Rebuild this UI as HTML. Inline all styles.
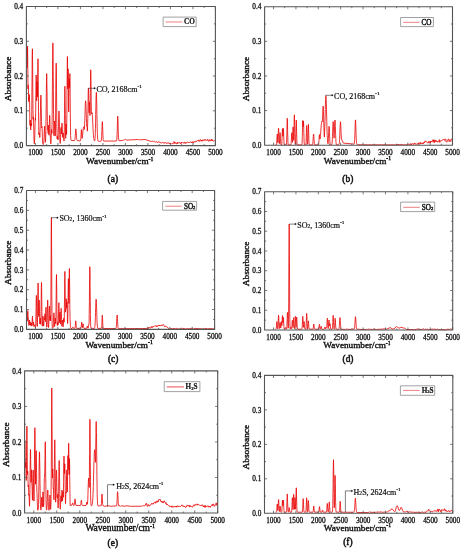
<!DOCTYPE html>
<html><head><meta charset="utf-8"><title>FTIR spectra</title>
<style>html,body{margin:0;padding:0;background:#fff;width:463px;height:550px;overflow:hidden}svg{display:block}</style>
</head><body>
<svg width="463" height="550" viewBox="0 0 463 550" font-family="'Liberation Serif','Times New Roman',serif" fill="#111" stroke-linejoin="round">
<rect width="463" height="550" fill="#fff"/>
<path d="M26.7,52.7 26.8,47.3 26.8,47.1 27.0,54.6 27.1,67.8 27.3,63.5 27.4,49.9 27.5,47.3 27.6,46.2 27.7,56.7 27.9,76.2 28.0,88.9 28.2,85.1 28.3,84.8 28.3,85.7 28.5,92.0 28.6,101.5 28.8,99.7 28.9,97.9 29.1,99.2 29.2,94.7 29.4,94.5 29.5,99.3 29.7,107.9 29.8,117.5 30.0,125.3 30.1,122.0 30.3,120.1 30.4,122.8 30.6,128.4 30.7,130.0 30.9,127.3 31.0,124.8 31.2,123.6 31.3,124.3 31.5,126.0 31.6,125.0 31.8,111.8 31.9,93.0 32.1,72.1 32.2,55.3 32.4,48.8 32.5,55.3 32.7,71.9 32.8,92.3 33.0,110.2 33.1,119.3 33.3,116.9 33.4,116.8 33.4,117.4 33.6,121.8 33.9,135.2 34.0,140.0 34.2,142.7 34.3,143.8 34.5,142.8 34.6,140.3 34.8,135.9 34.9,129.7 35.1,123.3 35.2,119.1 35.3,118.4 35.4,118.3 35.5,120.3 35.7,109.8 35.8,96.0 36.0,83.1 36.1,75.7 36.2,75.0 36.3,76.7 36.4,85.2 36.6,97.0 36.7,100.8 36.9,89.3 37.0,82.1 37.1,81.5 37.2,83.3 37.3,91.7 37.5,96.9 37.6,81.8 37.8,67.2 37.9,59.1 38.0,58.7 38.1,61.7 38.2,74.5 38.4,93.1 38.5,111.5 38.7,125.6 38.8,134.3 39.0,134.8 39.1,133.4 39.3,132.8 39.4,133.6 39.6,135.4 39.7,137.5 39.9,137.1 40.0,132.7 40.2,126.1 40.3,117.8 40.5,108.9 40.6,101.0 40.8,96.1 40.9,95.1 40.9,95.3 41.1,98.8 41.2,105.6 41.4,113.8 41.5,121.6 41.7,127.8 41.8,127.1 42.0,126.7 42.1,128.9 42.3,132.9 42.4,137.3 42.6,140.9 42.7,143.0 42.9,144.0 43.0,144.4 43.2,144.5 43.3,144.5 43.5,144.2 43.6,143.6 43.8,142.2 43.9,139.8 44.1,136.2 44.2,132.0 44.4,128.2 44.5,126.1 44.6,126.0 44.7,126.6 44.8,129.4 45.1,137.5 45.3,140.5 45.4,142.3 45.6,141.0 45.7,137.2 45.9,130.4 46.0,120.1 46.2,106.8 46.3,92.5 46.5,80.5 46.6,74.1 46.7,73.6 46.8,75.3 46.9,83.6 47.1,96.4 47.2,110.0 47.4,121.5 47.5,129.8 47.7,129.7 47.8,129.8 47.8,130.1 48.0,131.6 48.1,133.5 48.3,131.5 48.4,127.1 48.6,125.3 48.7,127.5 48.9,132.2 49.0,135.2 49.2,130.7 49.3,124.5 49.5,118.8 49.6,115.5 49.7,115.3 49.8,116.2 49.9,120.6 50.2,133.4 50.4,138.5 50.5,141.7 50.7,143.3 50.8,143.9 51.0,142.7 51.1,139.9 51.4,131.6 51.6,129.6 51.7,130.7 51.9,133.4 52.0,126.7 52.2,114.4 52.3,97.0 52.5,76.6 52.6,57.7 52.8,45.4 52.9,42.9 52.9,43.5 53.1,52.6 53.2,69.9 53.4,90.4 53.5,109.3 53.7,123.8 53.8,133.0 54.0,135.7 54.1,131.6 54.3,126.7 54.4,122.6 54.6,121.0 54.7,122.6 54.9,126.8 55.0,131.9 55.2,136.1 55.3,135.3 55.5,127.0 55.6,113.3 55.9,77.8 56.1,65.7 56.2,63.1 56.2,63.7 56.4,72.9 56.5,89.4 56.7,107.8 56.8,123.2 57.0,133.4 57.1,138.9 57.3,138.2 57.4,136.6 57.6,135.9 57.7,136.6 58.0,139.9 58.2,137.3 58.3,132.7 58.5,126.6 58.6,119.8 58.8,114.1 58.9,111.1 59.0,110.9 59.1,111.7 59.2,115.8 59.4,122.1 59.5,128.9 59.7,134.8 59.8,139.1 60.0,141.9 60.1,143.3 60.3,143.4 60.4,141.5 60.6,137.8 60.7,132.8 60.9,128.6 61.0,127.5 61.0,127.6 61.2,130.1 61.3,134.1 61.5,131.9 61.6,128.3 61.8,124.9 61.9,123.1 62.0,123.0 62.1,123.5 62.2,126.0 62.4,129.9 62.5,133.9 62.7,137.2 62.8,137.5 63.0,135.4 63.1,133.6 63.3,132.9 63.4,133.8 63.6,135.9 63.7,138.4 63.9,140.6 64.0,141.1 64.2,136.7 64.3,127.9 64.5,114.6 64.6,99.6 64.8,88.6 64.9,86.2 64.9,86.8 65.1,95.2 65.4,123.8 65.5,134.0 65.7,138.4 65.8,133.9 66.0,128.1 66.1,124.2 66.2,123.9 66.3,125.0 66.4,129.5 66.6,134.5 66.7,128.6 66.9,113.6 67.0,92.4 67.2,70.9 67.3,57.8 67.4,56.5 67.5,58.7 67.6,71.6 67.8,88.8 67.9,80.5 68.1,70.5 68.2,68.9 68.2,70.0 68.4,80.6 68.5,97.1 68.7,111.9 68.8,103.0 69.0,89.4 69.1,80.2 69.2,79.0 69.3,79.8 69.4,87.5 69.6,87.8 69.7,76.8 69.9,73.6 70.0,77.5 70.0,81.0 70.2,96.3 70.3,113.6 70.5,127.2 70.6,135.3 70.8,138.9 70.9,139.9 71.2,140.4 74.4,140.6 74.6,140.5 74.7,140.2 74.9,139.6 75.0,138.4 75.2,136.7 75.5,132.1 75.6,130.1 75.8,129.0 75.8,128.9 75.9,129.2 76.1,130.7 76.4,135.3 76.5,137.4 76.7,138.9 76.8,139.8 77.0,140.3 77.3,140.6 80.3,140.9 80.4,140.8 80.6,140.4 80.7,139.5 80.9,137.7 81.0,135.0 81.2,132.0 81.3,129.9 81.4,129.5 81.5,129.6 81.6,131.2 81.9,136.6 82.1,138.4 82.2,137.9 82.4,137.0 82.6,135.1 83.1,129.6 83.3,128.3 83.4,127.4 83.6,126.8 83.7,126.9 83.9,127.2 84.3,129.5 84.5,128.5 84.6,124.9 84.8,120.6 85.1,111.0 85.2,106.6 85.4,103.1 85.5,101.2 85.6,100.8 85.7,100.9 85.8,102.5 86.0,105.5 86.1,109.6 86.4,118.7 86.6,122.7 86.7,126.1 86.9,125.6 86.9,125.8 87.0,126.6 87.1,127.4 87.3,131.2 87.5,130.8 87.6,125.7 87.8,118.2 88.1,99.9 88.2,92.5 88.4,88.6 88.4,88.2 88.5,89.1 88.7,93.7 88.8,100.7 89.0,108.4 89.1,112.8 89.3,106.8 89.3,105.7 89.4,102.6 89.5,101.9 89.6,102.3 89.7,106.1 89.9,112.2 90.0,115.5 90.2,105.4 90.3,92.7 90.5,80.3 90.6,71.8 90.7,69.8 90.8,70.0 90.9,75.5 91.1,86.3 91.2,102.1 91.4,111.3 91.5,113.9 91.9,112.6 92.0,112.6 92.1,112.9 92.3,114.2 92.4,116.2 92.6,118.9 93.0,128.3 93.2,131.1 93.3,133.6 93.5,135.7 93.6,137.3 93.8,138.5 93.9,139.4 94.1,140.0 94.4,140.8 94.5,140.9 94.7,140.7 94.8,140.2 95.0,139.1 95.0,138.6 95.1,137.0 95.3,133.7 95.4,128.8 95.6,122.2 95.7,114.5 95.9,106.4 96.0,99.1 96.2,94.1 96.3,92.3 96.5,94.1 96.6,99.1 96.8,106.4 96.9,114.5 97.1,122.3 97.2,128.8 97.4,133.7 97.5,137.1 97.7,139.2 97.8,140.3 98.0,140.8 98.1,141.1 99.6,141.5 100.5,141.1 101.0,141.2 101.1,141.1 101.3,140.8 101.4,139.9 101.6,138.1 101.6,136.3 101.7,135.2 101.9,131.1 102.0,126.6 102.2,123.0 102.3,121.6 102.5,123.0 102.6,126.5 102.8,130.9 102.9,135.0 103.1,137.9 103.1,138.5 103.2,139.7 103.4,140.6 103.5,141.1 116.4,141.0 116.6,140.8 116.7,140.1 116.9,138.7 117.0,136.0 117.2,131.7 117.5,120.7 117.6,117.0 117.7,116.2 117.8,116.4 117.9,119.1 118.1,124.2 118.2,130.2 118.4,134.5 118.5,137.7 118.7,139.5 118.8,140.4 119.0,140.7 122.6,140.5 123.3,140.1 124.4,140.1 125.3,139.1 126.6,140.1 138.5,139.5 139.2,139.9 145.1,139.5 151.4,141.5 152.0,141.0 153.5,141.4 154.1,141.9 154.7,141.5 155.4,142.1 156.2,141.7 157.2,142.1 157.8,142.7 158.4,141.7 161.6,143.1 162.6,142.3 164.0,143.0 164.9,143.2 165.2,142.3 165.9,143.0 167.2,143.6 167.7,142.7 168.5,142.7 169.4,144.0 170.0,143.0 171.5,143.8 171.8,143.5 172.3,143.9 172.8,143.2 173.3,143.6 174.0,141.6 174.0,141.5 174.3,142.6 174.5,143.0 174.6,143.5 174.8,142.9 174.9,142.1 175.3,142.5 175.8,143.6 176.5,143.9 177.0,142.7 177.3,142.3 177.7,143.8 178.1,142.7 178.4,142.4 178.8,142.7 180.0,142.9 180.8,143.8 181.3,142.0 181.7,143.0 182.3,142.6 183.5,143.2 184.1,142.2 184.5,142.2 185.1,143.6 185.6,142.5 186.4,143.2 186.9,142.1 187.7,142.0 188.2,142.6 189.5,142.5 189.8,142.2 189.9,142.5 190.2,142.4 190.7,141.7 192.1,142.8 192.8,141.5 193.3,143.1 193.8,142.0 194.5,142.0 194.9,141.2 195.2,141.1 195.6,141.9 196.3,141.7 196.7,140.9 197.1,140.9 198.5,140.0 198.9,141.4 199.4,141.4 200.1,139.7 200.6,139.6 201.2,141.3 201.7,140.0 202.4,141.2 203.1,139.5 203.7,140.6 204.7,140.4 205.0,139.2 205.4,139.5 205.6,140.3 205.8,140.5 206.8,140.0 207.2,140.4 207.7,139.3 208.4,141.1 209.0,141.4 209.5,139.6 210.7,141.1 211.3,139.1 211.7,139.5 212.0,141.0 212.4,139.7 213.5,141.2 214.7,140.7 215.0,140.3" fill="none" stroke="#e80000" stroke-width="0.8" stroke-linejoin="round"/>
<path d="M35.4 145.6v-2.6M35.4 6.5v2.6M46.65 145.6v-1.5M46.65 6.5v1.5M57.9 145.6v-2.6M57.9 6.5v2.6M69.15 145.6v-1.5M69.15 6.5v1.5M80.4 145.6v-2.6M80.4 6.5v2.6M91.65 145.6v-1.5M91.65 6.5v1.5M102.9 145.6v-2.6M102.9 6.5v2.6M114.15 145.6v-1.5M114.15 6.5v1.5M125.4 145.6v-2.6M125.4 6.5v2.6M136.65 145.6v-1.5M136.65 6.5v1.5M147.9 145.6v-2.6M147.9 6.5v2.6M159.15 145.6v-1.5M159.15 6.5v1.5M170.4 145.6v-2.6M170.4 6.5v2.6M181.65 145.6v-1.5M181.65 6.5v1.5M192.9 145.6v-2.6M192.9 6.5v2.6M204.15 145.6v-1.5M204.15 6.5v1.5M215.4 145.6v-2.6M215.4 6.5v2.6M26.4 128.21h1.5M215.4 128.21h-1.5M26.4 110.82h2.6M215.4 110.82h-2.6M26.4 93.44h1.5M215.4 93.44h-1.5M26.4 76.05h2.6M215.4 76.05h-2.6M26.4 58.66h1.5M215.4 58.66h-1.5M26.4 41.27h2.6M215.4 41.27h-2.6M26.4 23.89h1.5M215.4 23.89h-1.5" stroke="#555" stroke-width="0.8" fill="none"/>
<rect x="26.4" y="6.5" width="189" height="139.1" fill="none" stroke="#555" stroke-width="1.1"/>
<g font-size="7.25" fill="#111" stroke="#111" stroke-width="0.28"><text x="35.4" y="155.1" text-anchor="middle">1000</text><text x="57.9" y="155.1" text-anchor="middle">1500</text><text x="80.4" y="155.1" text-anchor="middle">2000</text><text x="102.9" y="155.1" text-anchor="middle">2500</text><text x="125.4" y="155.1" text-anchor="middle">3000</text><text x="147.9" y="155.1" text-anchor="middle">3500</text><text x="170.4" y="155.1" text-anchor="middle">4000</text><text x="192.9" y="155.1" text-anchor="middle">4500</text><text x="215.4" y="155.1" text-anchor="middle">5000</text><text x="23.2" y="148.25" text-anchor="end">0.0</text><text x="23.2" y="113.47" text-anchor="end">0.1</text><text x="23.2" y="78.7" text-anchor="end">0.2</text><text x="23.2" y="43.92" text-anchor="end">0.3</text><text x="23.2" y="9.15" text-anchor="end">0.4</text></g>
<path d="M275.5,144.9 276.4,144.8 276.5,144.3 276.7,143.2 276.8,141.0 277.0,138.0 277.1,135.2 277.3,134.0 277.4,135.2 277.7,140.9 277.9,142.7 278.0,141.1 278.2,137.4 278.3,132.7 278.5,129.0 278.6,128.2 278.6,128.4 278.8,131.2 278.9,135.9 279.1,140.1 279.2,142.9 279.4,143.7 279.5,142.2 279.7,139.4 279.8,136.0 280.0,133.3 280.1,132.7 280.1,132.9 280.3,134.9 280.4,138.3 280.6,141.5 280.7,143.5 280.9,144.5 281.0,144.9 281.5,144.9 281.6,144.6 281.8,143.6 281.9,141.4 282.1,137.6 282.2,133.0 282.4,129.4 282.5,128.5 282.5,128.7 282.7,131.1 282.8,135.0 283.0,136.2 283.1,132.4 283.3,129.2 283.4,128.5 283.4,128.7 283.6,131.6 283.7,136.1 283.9,140.3 284.0,143.0 284.2,144.3 284.3,144.8 286.1,144.9 286.3,144.8 286.4,144.3 286.6,142.7 286.7,139.1 286.9,132.9 287.0,125.4 287.2,119.5 287.3,118.2 287.3,118.5 287.5,123.0 287.6,130.4 287.8,137.3 287.9,141.7 288.1,143.9 288.2,144.7 288.4,144.9 290.8,144.9 290.9,144.7 291.1,143.9 291.2,142.3 291.4,139.5 291.5,136.0 291.7,133.3 291.8,132.7 291.8,132.9 292.0,134.9 292.1,138.3 292.3,141.2 292.4,142.3 292.6,139.6 292.7,135.1 292.9,130.2 293.0,127.1 293.1,126.9 293.2,127.8 293.3,131.7 293.5,136.7 293.6,140.4 293.8,139.5 293.9,133.9 294.1,125.7 294.2,118.1 294.4,114.9 294.5,118.1 294.7,125.8 294.8,134.0 295.0,140.0 295.1,143.2 295.3,144.4 295.4,144.3 295.6,142.8 295.7,139.5 295.9,133.8 296.0,126.8 296.2,121.3 296.3,120.1 296.3,120.4 296.5,124.6 296.6,131.5 296.8,137.8 296.9,142.0 297.1,144.0 297.2,144.7 297.4,144.9 301.7,144.9 301.9,144.6 302.0,143.6 302.2,141.0 302.3,136.3 302.5,129.7 302.6,123.4 302.8,120.5 302.9,122.1 303.1,126.6 303.2,125.3 303.4,121.6 303.5,121.1 303.5,121.6 303.7,125.8 303.8,132.3 304.0,138.3 304.1,142.2 304.3,144.0 304.4,144.7 305.6,144.9 305.8,144.7 305.9,143.8 306.1,141.8 306.2,137.9 306.4,132.6 306.5,127.7 306.7,125.6 306.8,127.7 307.0,132.6 307.1,137.9 307.3,141.8 307.4,143.8 307.6,144.0 307.7,142.5 307.9,139.0 308.0,133.8 308.2,128.0 308.3,124.6 308.4,124.3 308.5,125.3 308.6,129.8 308.8,135.7 308.9,140.4 309.1,143.2 309.2,144.4 309.4,144.9 312.4,144.9 312.5,144.7 312.7,144.2 312.8,143.2 313.0,141.5 313.1,139.2 313.3,136.7 313.4,134.8 313.6,134.0 313.7,134.8 313.9,136.7 314.0,139.2 314.2,141.5 314.3,143.2 314.5,144.2 314.6,144.7 314.8,144.9 318.2,144.9 318.4,144.8 318.5,144.4 318.7,143.6 318.8,142.3 319.0,140.4 319.1,138.0 319.3,135.9 319.4,134.7 319.5,134.5 319.6,134.7 319.7,136.0 319.9,137.9 320.0,139.0 320.2,138.1 320.3,136.8 320.5,135.2 321.1,127.1 321.2,125.2 321.4,123.7 321.5,122.5 321.7,121.7 321.8,121.2 322.0,121.0 322.3,121.3 322.4,121.6 322.6,118.2 322.7,113.4 322.9,109.3 323.0,106.7 323.2,106.1 323.3,107.8 323.5,111.4 323.6,116.4 323.9,127.5 324.1,132.2 324.2,135.8 324.4,137.0 324.5,134.6 324.7,131.1 324.8,126.6 325.0,121.2 325.3,109.4 325.4,104.0 325.6,99.6 325.7,96.7 325.9,95.7 326.0,96.7 326.2,99.6 326.3,104.0 326.5,109.4 326.8,121.4 326.9,126.9 327.1,131.6 327.2,135.6 327.4,138.6 327.5,140.8 327.7,142.4 327.8,143.3 328.0,143.8 328.1,142.9 328.3,141.2 328.4,138.5 328.6,135.0 328.7,131.3 328.9,128.1 329.0,126.4 329.1,126.3 329.2,126.8 329.3,129.0 329.5,132.5 329.6,136.3 329.8,139.6 329.9,142.0 330.1,143.5 330.2,144.3 330.4,144.7 330.5,144.9 331.6,144.9 331.7,144.7 331.9,144.3 332.0,143.4 332.2,142.0 332.3,139.6 332.5,136.4 332.6,132.4 332.8,128.1 332.9,124.4 333.1,122.1 333.2,121.6 333.2,121.7 333.4,123.4 333.5,126.7 333.8,134.6 334.0,137.7 334.1,138.2 334.3,135.2 334.4,131.2 334.6,126.8 334.7,122.9 334.9,120.5 335.0,120.0 335.0,120.1 335.2,122.0 335.3,125.5 335.6,134.4 335.8,138.2 335.9,141.0 336.1,142.9 336.2,144.0 336.4,144.5 336.5,144.8 338.3,144.8 338.9,144.3 339.1,144.0 339.2,143.6 339.4,142.5 339.5,140.8 339.7,138.3 339.8,134.9 340.1,126.8 340.3,123.6 340.4,121.9 340.5,121.7 340.6,122.1 340.7,124.1 340.9,127.4 341.0,131.3 341.2,135.0 341.3,138.0 341.5,139.2 343.4,143.1 353.9,144.1 354.1,144.0 354.2,143.7 354.4,143.0 354.5,141.7 354.7,139.4 354.8,135.8 355.0,131.3 355.1,126.4 355.3,122.2 355.4,120.1 355.5,119.9 355.6,120.5 355.7,123.4 355.9,128.0 356.0,132.9 356.2,137.2 356.3,140.3 356.5,142.3 356.6,143.4 356.8,144.0 357.5,144.8 395.6,144.9 396.0,144.6 402.2,144.7 404.9,144.9 405.0,144.8 405.5,144.9 405.7,144.7 405.8,144.9 407.8,144.7 408.3,144.1 409.3,144.5 409.9,144.1 410.4,144.7 410.8,143.5 410.9,143.7 411.3,144.9 411.8,143.7 412.4,143.8 413.6,144.4 413.8,144.4 414.2,142.9 414.4,143.2 414.7,143.9 415.2,144.4 415.7,143.4 416.1,144.2 416.5,144.0 417.0,144.5 417.8,143.3 418.3,142.8 418.8,144.4 419.3,143.3 419.5,142.8 419.8,143.1 419.9,143.5 420.3,142.4 420.6,143.8 421.0,144.0 421.4,143.7 422.0,142.7 422.5,143.8 422.9,143.0 423.5,143.7 423.9,142.2 424.3,142.8 424.5,143.0 425.0,140.9 425.2,140.9 425.4,141.2 425.9,141.1 426.1,141.5 426.8,141.8 427.2,142.6 427.9,143.2 428.3,143.0 428.6,141.6 429.0,141.2 429.5,142.6 430.1,141.2 430.5,143.1 431.0,141.2 432.2,142.0 432.6,141.5 433.0,139.6 433.4,141.6 433.7,140.1 434.2,142.8 434.8,139.8 435.0,140.1 435.3,141.5 435.7,141.9 435.9,142.0 436.2,140.3 436.6,141.3 436.8,141.4 437.0,141.1 437.2,141.2 437.7,142.2 438.2,142.1 438.6,141.5 438.9,141.5 439.1,140.3 439.3,139.6 439.8,142.4 440.3,141.1 440.7,141.1 441.2,140.2 441.7,140.7 442.5,140.2 442.8,139.6 443.0,139.3 443.4,139.3 443.8,139.8 444.3,139.4 444.7,140.4 444.9,140.6 445.1,139.4 445.3,139.1 445.4,139.1 445.8,139.3 445.9,140.2 446.1,142.0 447.1,141.8 447.7,140.2 448.2,139.1 448.8,139.1 449.0,141.7 449.6,140.7 450.0,139.7 450.4,140.5 450.8,141.6 451.1,140.2 451.7,138.7 452.2,138.9" fill="none" stroke="#e80000" stroke-width="0.8" stroke-linejoin="round"/>
<path d="M273.55 145.2v-2.6M273.55 6.7v2.6M284.73 145.2v-1.5M284.73 6.7v1.5M295.92 145.2v-2.6M295.92 6.7v2.6M307.1 145.2v-1.5M307.1 6.7v1.5M318.29 145.2v-2.6M318.29 6.7v2.6M329.47 145.2v-1.5M329.47 6.7v1.5M340.65 145.2v-2.6M340.65 6.7v2.6M351.84 145.2v-1.5M351.84 6.7v1.5M363.02 145.2v-2.6M363.02 6.7v2.6M374.21 145.2v-1.5M374.21 6.7v1.5M385.39 145.2v-2.6M385.39 6.7v2.6M396.58 145.2v-1.5M396.58 6.7v1.5M407.76 145.2v-2.6M407.76 6.7v2.6M418.95 145.2v-1.5M418.95 6.7v1.5M430.13 145.2v-2.6M430.13 6.7v2.6M441.32 145.2v-1.5M441.32 6.7v1.5M452.5 145.2v-2.6M452.5 6.7v2.6M264.6 127.89h1.5M452.5 127.89h-1.5M264.6 110.57h2.6M452.5 110.57h-2.6M264.6 93.26h1.5M452.5 93.26h-1.5M264.6 75.95h2.6M452.5 75.95h-2.6M264.6 58.64h1.5M452.5 58.64h-1.5M264.6 41.32h2.6M452.5 41.32h-2.6M264.6 24.01h1.5M452.5 24.01h-1.5" stroke="#555" stroke-width="0.8" fill="none"/>
<rect x="264.6" y="6.7" width="187.9" height="138.5" fill="none" stroke="#555" stroke-width="1.1"/>
<g font-size="7.25" fill="#111" stroke="#111" stroke-width="0.28"><text x="273.55" y="154.7" text-anchor="middle">1000</text><text x="295.92" y="154.7" text-anchor="middle">1500</text><text x="318.29" y="154.7" text-anchor="middle">2000</text><text x="340.65" y="154.7" text-anchor="middle">2500</text><text x="363.02" y="154.7" text-anchor="middle">3000</text><text x="385.39" y="154.7" text-anchor="middle">3500</text><text x="407.76" y="154.7" text-anchor="middle">4000</text><text x="430.13" y="154.7" text-anchor="middle">4500</text><text x="452.5" y="154.7" text-anchor="middle">5000</text><text x="261.4" y="147.85" text-anchor="end">0.0</text><text x="261.4" y="113.22" text-anchor="end">0.1</text><text x="261.4" y="78.6" text-anchor="end">0.2</text><text x="261.4" y="43.97" text-anchor="end">0.3</text><text x="261.4" y="9.35" text-anchor="end">0.4</text></g>
<path d="M26.8,312.0 26.9,313.6 27.2,321.3 27.4,319.8 27.5,315.3 27.7,311.6 27.8,310.6 27.8,310.6 28.0,312.9 28.1,316.8 28.3,317.1 28.4,317.1 28.4,317.5 28.6,319.9 28.7,323.0 28.9,325.5 29.0,325.1 29.3,320.9 29.5,320.0 29.6,320.8 29.9,325.0 30.1,325.1 30.2,323.6 30.4,322.3 30.5,322.0 30.5,322.0 30.7,323.1 30.8,324.7 31.0,325.7 31.3,323.2 31.4,323.0 31.4,323.0 31.6,324.0 31.7,325.5 31.9,326.1 32.0,323.9 32.3,317.5 32.5,316.2 32.6,317.5 32.9,323.7 33.1,325.3 33.4,322.3 33.5,322.0 33.5,322.1 33.7,323.3 33.8,325.1 34.0,326.6 34.1,326.4 34.3,325.5 34.4,324.9 34.6,324.9 34.7,325.4 34.9,325.7 35.0,325.8 35.2,326.4 35.3,327.2 35.5,327.7 35.6,326.4 35.8,323.0 35.9,316.4 36.1,307.4 36.2,298.9 36.4,295.4 36.5,298.9 36.7,307.4 36.8,316.4 37.0,323.0 37.1,326.3 37.3,326.4 37.4,322.9 37.6,315.4 37.7,303.8 37.9,291.2 38.0,283.6 38.1,283.0 38.2,285.2 38.3,294.9 38.5,307.3 38.6,316.5 38.8,314.5 38.9,307.3 39.1,301.3 39.2,300.0 39.2,300.3 39.4,305.1 39.5,312.9 39.7,319.9 39.8,324.0 40.0,321.8 40.1,319.2 40.3,318.0 40.4,319.2 40.6,322.0 40.7,324.3 40.9,320.4 41.0,311.6 41.2,299.0 41.3,287.3 41.5,282.4 41.6,287.3 41.8,299.1 41.9,311.7 42.1,320.8 42.2,325.5 42.4,326.2 42.5,323.9 42.7,320.5 42.8,317.3 43.0,316.0 43.1,317.3 43.3,320.5 43.4,323.9 43.6,326.1 43.7,325.9 43.9,323.7 44.0,320.8 44.2,318.4 44.3,317.7 44.3,317.7 44.5,318.8 44.6,319.5 44.8,316.0 44.9,313.8 45.0,313.7 45.1,314.6 45.2,317.9 45.4,321.6 45.5,319.9 45.8,309.4 46.0,307.2 46.1,309.5 46.3,314.9 46.4,320.7 46.6,324.9 46.7,327.1 46.9,327.2 47.0,325.0 47.2,320.3 47.3,313.0 47.5,305.1 47.6,300.3 47.7,299.9 47.8,301.3 47.9,307.6 48.1,315.6 48.2,322.2 48.4,326.0 48.5,327.5 48.7,326.5 48.8,323.5 49.0,318.4 49.1,312.1 49.3,307.2 49.4,306.1 49.4,306.3 49.6,309.9 49.7,315.7 49.9,320.5 50.0,318.9 50.2,316.4 50.3,315.8 50.3,316.0 50.5,318.2 50.6,320.9 50.8,313.2 50.9,293.0 51.1,261.8 51.2,230.9 51.4,217.6 51.5,230.9 51.7,261.9 51.8,293.3 52.0,314.1 52.1,323.9 52.3,327.4 52.4,328.3 52.6,328.5 52.9,328.4 53.0,328.1 53.2,327.1 53.3,325.0 53.5,321.4 53.6,317.0 53.8,313.6 53.9,312.8 53.9,313.0 54.1,315.6 54.2,320.0 54.4,323.9 54.5,326.4 54.7,326.6 54.8,324.6 55.0,321.8 55.1,319.1 55.3,318.0 55.4,319.0 55.6,321.5 55.7,323.7 55.9,319.0 56.0,308.6 56.2,294.0 56.3,280.2 56.5,274.5 56.6,280.2 56.8,294.0 56.9,308.8 57.1,319.4 57.2,324.9 57.4,325.6 57.5,323.9 57.7,322.3 57.8,322.0 57.8,322.1 58.0,323.2 58.1,324.8 58.3,323.7 58.4,318.9 58.6,312.0 58.7,305.4 58.9,302.7 59.0,305.4 59.2,311.8 59.3,318.5 59.5,322.5 59.6,319.1 59.8,314.8 59.9,312.2 60.0,312.0 60.1,312.8 60.2,316.3 60.4,320.8 60.5,324.1 60.7,322.3 60.8,317.4 61.0,311.9 61.1,308.5 61.2,308.3 61.3,309.3 61.4,313.7 61.6,319.4 61.7,323.9 61.9,326.3 62.0,325.2 62.3,320.9 62.5,320.0 62.6,320.9 62.9,325.3 63.1,326.9 63.2,326.5 63.4,324.2 63.5,321.1 63.7,318.6 63.8,318.0 63.8,318.1 64.0,319.8 64.1,322.2 64.3,318.3 64.4,307.4 64.6,292.0 64.7,277.5 64.9,271.4 65.0,277.1 65.2,290.9 65.3,305.2 65.5,312.2 65.6,310.2 65.7,309.9 65.8,310.1 65.9,309.4 66.1,303.0 66.2,299.0 66.3,298.7 66.4,299.8 66.5,304.7 66.7,308.1 66.8,303.4 67.0,301.9 67.1,305.1 67.3,311.9 67.4,318.9 67.6,323.6 67.7,322.0 67.9,314.1 68.0,301.5 68.2,287.8 68.3,279.3 68.4,278.7 68.5,280.9 68.6,291.0 68.8,303.1 68.9,303.5 69.2,274.8 69.4,268.6 69.5,274.5 69.7,289.0 69.8,304.6 70.0,316.1 70.1,319.9 70.3,323.1 70.4,325.7 70.6,327.4 70.7,328.1 71.0,328.6 72.2,328.4 72.5,327.9 72.8,327.2 73.0,327.1 73.1,327.2 73.6,328.4 74.2,328.6 74.8,328.3 75.0,327.8 75.1,327.1 75.3,325.6 75.6,321.6 75.7,320.8 75.9,321.6 76.2,325.7 76.3,327.3 76.5,328.2 76.6,328.4 80.7,328.4 80.8,328.3 81.0,328.0 81.1,327.3 81.3,326.1 81.6,322.7 81.7,322.1 81.9,322.8 82.2,326.1 82.3,327.3 82.5,327.7 82.6,327.0 82.9,324.6 83.1,323.9 83.1,323.8 83.2,324.1 83.4,325.1 83.5,326.4 83.7,327.5 83.8,328.1 84.0,328.4 86.5,328.4 86.7,328.2 86.8,327.8 87.1,326.5 87.3,326.0 87.4,326.1 87.9,328.0 88.0,328.2 88.2,327.8 88.3,327.0 88.5,326.0 88.6,325.2 88.8,324.9 88.9,325.0 89.1,322.0 89.2,314.4 89.4,301.8 89.5,286.0 89.7,272.3 89.8,266.7 90.0,272.3 90.1,286.0 90.3,301.8 90.4,314.6 90.6,322.4 90.6,324.0 90.7,326.2 90.9,327.7 91.0,328.2 94.3,328.5 94.5,328.3 94.6,328.0 94.8,327.3 94.8,326.7 94.9,326.1 95.1,324.1 95.2,321.1 95.4,317.2 95.5,312.6 95.7,307.7 95.8,303.3 95.8,302.2 96.0,300.3 96.1,299.2 96.3,300.2 96.4,303.3 96.6,307.6 96.9,317.1 97.0,321.0 97.2,324.0 97.3,326.0 97.5,327.3 97.6,328.0 97.8,328.4 101.2,328.4 101.4,328.3 101.5,327.7 101.7,326.7 101.8,324.5 102.0,321.2 102.1,317.5 102.3,315.3 102.3,315.1 102.4,315.8 102.4,316.4 102.6,318.7 102.7,322.5 102.9,325.6 103.0,327.4 103.2,328.2 103.3,328.5 115.8,328.5 115.9,328.4 116.1,328.2 116.2,327.5 116.4,326.3 116.5,324.3 116.7,321.5 116.8,318.4 117.0,315.9 117.1,315.0 117.3,315.9 117.4,318.4 117.6,321.5 117.7,324.3 117.9,326.4 118.0,327.6 118.2,328.3 118.3,328.6 147.8,328.5 148.0,329.1 148.8,327.1 149.5,328.0 150.4,328.1 151.3,326.7 151.7,327.5 152.1,326.4 152.4,327.4 154.1,326.2 154.3,326.3 155.5,325.8 156.3,326.4 156.6,325.7 156.9,326.8 157.5,325.9 157.6,326.2 158.0,326.0 158.5,325.1 158.7,325.1 159.0,325.7 159.3,325.1 159.7,325.8 159.9,325.7 160.3,325.0 160.8,325.6 160.9,326.0 161.2,326.0 161.5,325.3 162.6,325.4 163.1,324.4 163.5,325.0 163.6,325.3 164.2,325.7 164.5,326.8 164.7,326.9 165.0,326.4 165.4,326.2 166.2,326.6 166.3,326.8 166.7,326.6 169.3,329.1 169.9,329.0 171.1,328.4 172.8,328.8 175.1,328.4 175.6,329.0 176.4,328.4 178.3,329.0 179.1,328.5 179.7,328.8 180.7,328.3 181.6,328.9 182.5,328.3 185.7,328.9 192.7,328.6 193.3,329.0 194.8,328.4 200.4,328.8 200.9,328.3 201.3,329.0 203.8,329.0 207.0,328.4 207.4,329.1 209.5,328.5 213.9,329.0 214.0,328.7 214.2,328.7" fill="none" stroke="#e80000" stroke-width="0.8" stroke-linejoin="round"/>
<path d="M35.46 329.4v-2.6M35.46 190.5v2.6M46.65 329.4v-1.5M46.65 190.5v1.5M57.85 329.4v-2.6M57.85 190.5v2.6M69.05 329.4v-1.5M69.05 190.5v1.5M80.24 329.4v-2.6M80.24 190.5v2.6M91.44 329.4v-1.5M91.44 190.5v1.5M102.64 329.4v-2.6M102.64 190.5v2.6M113.83 329.4v-1.5M113.83 190.5v1.5M125.03 329.4v-2.6M125.03 190.5v2.6M136.23 329.4v-1.5M136.23 190.5v1.5M147.42 329.4v-2.6M147.42 190.5v2.6M158.62 329.4v-1.5M158.62 190.5v1.5M169.81 329.4v-2.6M169.81 190.5v2.6M181.01 329.4v-1.5M181.01 190.5v1.5M192.21 329.4v-2.6M192.21 190.5v2.6M203.4 329.4v-1.5M203.4 190.5v1.5M214.6 329.4v-2.6M214.6 190.5v2.6M26.5 319.48h1.5M214.6 319.48h-1.5M26.5 309.56h2.6M214.6 309.56h-2.6M26.5 299.64h1.5M214.6 299.64h-1.5M26.5 289.71h2.6M214.6 289.71h-2.6M26.5 279.79h1.5M214.6 279.79h-1.5M26.5 269.87h2.6M214.6 269.87h-2.6M26.5 259.95h1.5M214.6 259.95h-1.5M26.5 250.03h2.6M214.6 250.03h-2.6M26.5 240.11h1.5M214.6 240.11h-1.5M26.5 230.19h2.6M214.6 230.19h-2.6M26.5 220.26h1.5M214.6 220.26h-1.5M26.5 210.34h2.6M214.6 210.34h-2.6M26.5 200.42h1.5M214.6 200.42h-1.5" stroke="#555" stroke-width="0.8" fill="none"/>
<rect x="26.5" y="190.5" width="188.1" height="138.9" fill="none" stroke="#555" stroke-width="1.1"/>
<g font-size="7.25" fill="#111" stroke="#111" stroke-width="0.28"><text x="35.46" y="338.9" text-anchor="middle">1000</text><text x="57.85" y="338.9" text-anchor="middle">1500</text><text x="80.24" y="338.9" text-anchor="middle">2000</text><text x="102.64" y="338.9" text-anchor="middle">2500</text><text x="125.03" y="338.9" text-anchor="middle">3000</text><text x="147.42" y="338.9" text-anchor="middle">3500</text><text x="169.81" y="338.9" text-anchor="middle">4000</text><text x="192.21" y="338.9" text-anchor="middle">4500</text><text x="214.6" y="338.9" text-anchor="middle">5000</text><text x="23.3" y="332.05" text-anchor="end">0.0</text><text x="23.3" y="312.21" text-anchor="end">0.1</text><text x="23.3" y="292.36" text-anchor="end">0.2</text><text x="23.3" y="272.52" text-anchor="end">0.3</text><text x="23.3" y="252.68" text-anchor="end">0.4</text><text x="23.3" y="232.84" text-anchor="end">0.5</text><text x="23.3" y="212.99" text-anchor="end">0.6</text><text x="23.3" y="193.15" text-anchor="end">0.7</text></g>
<path d="M275.5,329.3 275.9,329.2 276.1,329.0 276.2,328.3 276.4,327.1 276.5,325.1 276.7,322.9 276.8,321.6 276.9,321.5 277.0,321.9 277.1,323.6 277.3,325.8 277.4,327.6 277.6,328.6 277.7,328.9 277.9,328.1 278.0,326.2 278.2,322.9 278.3,319.0 278.5,315.9 278.6,315.2 278.6,315.4 278.8,317.7 278.9,321.6 279.1,325.2 279.2,327.5 279.4,328.5 279.5,327.7 279.7,326.2 279.8,324.3 280.0,322.8 280.1,322.5 280.1,322.6 280.3,323.7 280.4,325.6 280.6,327.2 280.7,328.1 280.9,327.0 281.0,325.0 281.2,322.9 281.3,321.6 281.4,321.5 281.5,321.9 281.6,323.5 281.8,325.4 281.9,325.7 282.1,322.9 282.2,319.2 282.4,316.2 282.5,315.5 282.5,315.7 282.7,317.8 282.8,321.1 283.0,322.8 283.1,320.2 283.3,317.9 283.4,317.4 283.4,317.6 283.6,319.6 283.7,322.9 283.9,325.9 284.0,327.9 284.2,328.8 284.3,329.2 284.8,329.2 285.1,328.8 285.4,327.8 285.6,327.5 285.7,327.6 286.1,328.9 286.3,329.1 286.4,329.2 286.6,329.0 286.7,328.3 286.9,326.5 287.0,323.1 287.2,318.5 287.3,314.2 287.5,312.4 287.6,314.2 287.8,318.5 287.9,323.1 288.1,326.5 288.2,328.1 288.4,326.4 288.5,319.7 288.7,303.8 288.8,276.7 289.0,245.4 289.1,225.5 289.2,224.0 289.3,229.8 289.4,255.4 289.6,286.8 289.7,310.3 289.9,322.7 290.0,327.5 290.2,328.8 290.3,328.4 290.6,327.2 290.8,327.0 290.9,327.2 291.2,328.5 291.4,328.9 291.5,329.0 291.7,328.5 291.8,327.3 292.0,325.2 292.1,322.6 292.3,320.6 292.4,320.2 292.4,320.3 292.6,321.8 292.7,324.3 292.9,326.5 293.0,327.5 293.2,325.8 293.3,322.9 293.5,319.7 293.6,317.7 293.7,317.6 293.8,318.2 293.9,320.7 294.1,324.0 294.2,326.7 294.4,328.3 294.5,328.8 294.7,328.1 294.8,326.4 295.0,323.4 295.1,319.8 295.3,316.9 295.4,316.3 295.4,316.5 295.6,318.6 295.7,322.2 295.9,325.4 296.0,327.3 296.2,325.6 296.3,322.6 296.5,319.2 296.6,317.2 296.7,317.0 296.8,317.6 296.9,320.3 297.1,323.8 297.2,326.6 297.4,328.2 297.5,329.0 297.7,329.2 301.7,329.2 301.9,329.1 302.0,328.5 302.2,327.1 302.3,324.6 302.5,321.0 302.6,317.7 302.8,316.3 302.9,317.7 303.1,321.0 303.2,324.5 303.4,326.9 303.5,327.3 303.7,325.7 303.8,323.6 304.0,321.9 304.1,321.5 304.1,321.6 304.3,322.9 304.4,325.1 304.6,327.1 304.7,328.3 304.9,329.0 305.0,329.2 305.6,329.2 305.8,329.0 305.9,328.3 306.1,326.7 306.2,323.5 306.4,319.1 306.5,315.1 306.7,313.4 306.8,315.1 307.0,319.1 307.1,323.5 307.3,326.6 307.4,328.3 307.6,328.9 307.7,328.2 307.9,326.9 308.0,324.7 308.2,322.3 308.3,320.9 308.4,320.8 308.5,321.2 308.6,323.1 308.8,325.5 308.9,327.4 309.1,328.6 309.2,329.1 312.8,329.2 313.0,329.1 313.1,328.7 313.3,327.8 313.6,325.0 313.7,324.1 313.8,324.0 313.9,324.3 314.0,325.4 314.2,326.9 314.3,328.1 314.5,328.8 314.6,329.2 318.4,329.3 318.5,329.2 318.7,328.9 318.8,328.2 319.0,327.0 319.1,325.6 319.3,324.5 319.4,324.3 319.4,324.4 319.6,325.2 319.9,327.9 320.0,328.7 320.2,329.1 320.3,329.2 320.5,329.0 320.6,328.6 321.1,326.4 321.2,326.3 321.4,326.8 321.7,328.4 321.8,328.9 322.1,329.3 324.1,329.3 324.4,328.9 324.5,328.5 324.8,327.2 325.0,327.0 325.1,327.2 325.4,328.5 325.6,328.9 325.7,329.0 325.9,328.6 326.2,327.4 326.4,327.0 326.5,327.1 326.6,327.4 326.8,327.1 326.9,325.1 327.2,319.4 327.4,318.2 327.5,319.4 327.7,322.2 327.8,325.2 328.0,327.4 328.1,328.6 328.3,328.4 328.4,327.2 328.6,325.1 328.7,322.5 328.9,320.4 329.0,320.0 329.0,320.1 329.2,321.6 329.3,324.0 329.5,326.1 329.6,325.9 329.8,324.5 329.9,323.6 330.0,323.6 330.1,323.9 330.2,325.1 330.4,326.7 330.5,328.0 330.7,328.8 330.8,329.1 332.0,329.3 332.2,329.2 332.3,328.9 332.5,328.1 332.6,326.2 332.8,323.0 332.9,319.0 333.1,316.0 333.2,315.3 333.2,315.5 333.4,317.8 333.5,321.7 333.7,325.3 333.8,327.6 334.0,328.7 334.1,329.1 334.3,329.1 334.4,328.6 334.6,327.5 334.7,325.3 334.9,322.2 335.0,319.4 335.2,318.2 335.3,319.4 335.5,322.2 335.6,325.3 335.8,327.5 335.9,328.6 336.1,329.1 338.6,329.3 338.9,328.9 339.1,328.4 339.2,327.3 339.4,325.6 339.5,323.1 339.7,320.4 339.8,318.3 340.0,317.5 340.0,317.7 340.1,318.5 340.3,320.6 340.4,323.2 340.6,325.6 340.7,327.3 340.9,328.5 341.0,328.9 341.3,329.3 345.5,329.4 346.1,329.1 350.9,329.5 351.5,329.0 354.1,329.1 354.2,329.0 354.4,328.6 354.6,327.9 354.7,326.8 354.8,324.9 355.0,322.6 355.1,320.1 355.3,318.0 355.4,316.8 355.5,316.7 355.6,317.0 355.7,318.4 356.0,322.0 356.0,323.2 356.2,325.5 356.3,327.2 356.5,328.3 356.6,329.0 356.8,329.3 359.2,329.2 359.6,329.4 365.9,329.5 366.5,329.2 367.3,329.6 368.3,329.1 369.1,329.4 369.9,329.0 370.6,329.4 372.7,329.5 373.3,329.0 376.5,329.5 377.1,329.1 377.8,329.4 385.1,328.9 385.9,329.4 390.1,327.6 392.9,329.2 394.9,328.2 396.4,326.6 396.7,326.5 397.9,327.8 398.4,327.9 399.1,327.7 399.8,328.2 400.0,328.2 401.0,327.1 403.6,328.1 403.9,327.9 404.9,328.1 406.1,329.5 416.2,329.7 416.8,328.9 421.0,329.6 423.6,328.9 424.4,329.5 424.9,329.0 427.1,329.5 427.7,329.0 428.4,329.6 433.3,329.1 436.7,329.4 437.5,329.1 438.2,329.6 446.4,329.7 446.9,329.2 449.6,329.4 450.3,329.0 451.1,329.4 452.1,328.9 452.2,329.3 452.3,329.3" fill="none" stroke="#e80000" stroke-width="0.8" stroke-linejoin="round"/>
<path d="M273.56 330v-2.6M273.56 191.7v2.6M284.75 330v-1.5M284.75 191.7v1.5M295.95 330v-2.6M295.95 191.7v2.6M307.15 330v-1.5M307.15 191.7v1.5M318.34 330v-2.6M318.34 191.7v2.6M329.54 330v-1.5M329.54 191.7v1.5M340.74 330v-2.6M340.74 191.7v2.6M351.93 330v-1.5M351.93 191.7v1.5M363.13 330v-2.6M363.13 191.7v2.6M374.32 330v-1.5M374.32 191.7v1.5M385.52 330v-2.6M385.52 191.7v2.6M396.72 330v-1.5M396.72 191.7v1.5M407.91 330v-2.6M407.91 191.7v2.6M419.11 330v-1.5M419.11 191.7v1.5M430.31 330v-2.6M430.31 191.7v2.6M441.5 330v-1.5M441.5 191.7v1.5M452.7 330v-2.6M452.7 191.7v2.6M264.6 320.12h1.5M452.7 320.12h-1.5M264.6 310.24h2.6M452.7 310.24h-2.6M264.6 300.36h1.5M452.7 300.36h-1.5M264.6 290.49h2.6M452.7 290.49h-2.6M264.6 280.61h1.5M452.7 280.61h-1.5M264.6 270.73h2.6M452.7 270.73h-2.6M264.6 260.85h1.5M452.7 260.85h-1.5M264.6 250.97h2.6M452.7 250.97h-2.6M264.6 241.09h1.5M452.7 241.09h-1.5M264.6 231.21h2.6M452.7 231.21h-2.6M264.6 221.34h1.5M452.7 221.34h-1.5M264.6 211.46h2.6M452.7 211.46h-2.6M264.6 201.58h1.5M452.7 201.58h-1.5" stroke="#555" stroke-width="0.8" fill="none"/>
<rect x="264.6" y="191.7" width="188.1" height="138.3" fill="none" stroke="#555" stroke-width="1.1"/>
<g font-size="7.25" fill="#111" stroke="#111" stroke-width="0.28"><text x="273.56" y="339.5" text-anchor="middle">1000</text><text x="295.95" y="339.5" text-anchor="middle">1500</text><text x="318.34" y="339.5" text-anchor="middle">2000</text><text x="340.74" y="339.5" text-anchor="middle">2500</text><text x="363.13" y="339.5" text-anchor="middle">3000</text><text x="385.52" y="339.5" text-anchor="middle">3500</text><text x="407.91" y="339.5" text-anchor="middle">4000</text><text x="430.31" y="339.5" text-anchor="middle">4500</text><text x="452.7" y="339.5" text-anchor="middle">5000</text><text x="261.4" y="332.65" text-anchor="end">0.0</text><text x="261.4" y="312.89" text-anchor="end">0.1</text><text x="261.4" y="293.14" text-anchor="end">0.2</text><text x="261.4" y="273.38" text-anchor="end">0.3</text><text x="261.4" y="253.62" text-anchor="end">0.4</text><text x="261.4" y="233.86" text-anchor="end">0.5</text><text x="261.4" y="214.11" text-anchor="end">0.6</text><text x="261.4" y="194.35" text-anchor="end">0.7</text></g>
<path d="M24.9,440.4 25.1,444.1 25.2,455.2 25.3,467.7 25.5,466.9 25.6,463.0 25.8,462.2 25.9,466.9 26.1,474.8 26.2,480.5 26.3,480.1 26.4,473.6 26.5,456.6 26.7,438.8 26.8,427.4 26.9,426.2 27.0,428.0 27.1,440.2 27.3,458.0 27.4,474.6 27.6,472.6 27.7,471.1 27.8,471.4 27.9,473.4 28.0,479.3 28.2,486.7 28.3,484.9 28.4,485.0 28.5,486.7 28.6,491.9 28.8,495.3 28.9,494.0 29.0,494.1 29.1,495.4 29.2,499.4 29.4,503.8 29.5,506.2 29.7,502.3 29.8,494.6 30.0,483.1 30.1,469.4 30.3,457.0 30.4,450.1 30.5,449.5 30.6,451.2 30.7,459.6 30.9,471.4 31.0,482.3 31.2,480.0 31.3,473.1 31.5,469.8 31.6,472.1 31.8,479.0 31.9,485.2 32.0,485.8 32.1,488.3 32.4,500.2 32.5,498.7 32.7,491.8 32.8,483.0 33.0,474.8 33.1,470.3 33.2,470.0 33.3,471.3 33.4,477.3 33.7,494.7 33.9,501.0 34.0,501.0 34.2,492.7 34.3,478.8 34.6,442.7 34.8,430.4 34.9,427.7 34.9,428.3 35.1,437.3 35.2,453.5 35.4,470.9 35.5,484.3 35.7,480.4 35.8,468.7 36.0,457.4 36.1,451.0 36.2,450.6 36.3,452.3 36.4,460.7 36.6,472.8 36.7,484.5 36.9,492.1 37.0,492.7 37.0,493.4 37.2,497.4 37.3,502.5 37.5,506.7 37.6,509.1 37.8,510.1 37.9,510.3 38.1,510.1 38.2,509.4 38.4,507.7 38.5,504.5 38.7,498.8 38.8,490.3 39.0,479.3 39.1,467.5 39.3,457.5 39.4,452.3 39.5,451.9 39.6,453.4 39.7,460.4 39.9,471.3 40.0,483.2 40.2,493.4 40.3,501.0 40.5,505.8 40.6,508.4 40.8,509.7 40.9,510.1 41.1,509.6 41.2,508.1 41.4,505.0 41.5,501.0 41.7,497.7 41.8,497.0 41.8,497.2 42.0,499.7 42.1,503.7 42.3,506.9 42.4,506.8 42.6,502.9 42.7,497.5 42.9,493.0 43.0,492.0 43.0,492.2 43.2,495.7 43.3,501.1 43.5,505.6 43.6,506.7 43.8,503.5 43.9,498.0 44.1,490.8 44.2,483.3 44.4,477.5 44.5,475.4 44.5,474.9 44.7,475.5 44.8,468.6 45.0,455.5 45.1,445.2 45.3,441.8 45.4,447.2 45.6,459.7 45.7,475.1 45.9,489.1 46.0,499.3 46.2,505.4 46.3,508.5 46.5,509.8 46.6,510.1 46.8,509.6 46.9,508.4 47.1,506.2 47.2,502.7 47.5,493.7 47.7,490.6 47.8,490.0 47.8,490.2 48.0,492.5 48.1,496.6 48.3,501.3 48.4,505.2 48.6,507.8 48.7,509.3 48.9,510.1 49.0,510.3 49.2,510.1 49.3,509.1 49.5,506.7 49.6,502.8 49.8,498.1 49.9,495.2 50.0,495.0 50.1,495.9 50.2,499.6 50.4,504.2 50.5,507.7 50.7,509.3 50.8,507.6 51.0,502.0 51.1,489.4 51.3,467.3 51.6,406.9 51.7,389.3 51.8,388.0 51.9,392.8 52.0,415.1 52.2,445.0 52.3,470.6 52.5,477.9 52.6,471.7 52.8,469.0 52.9,472.4 53.1,480.1 53.2,488.7 53.4,488.4 53.5,488.3 53.5,489.0 53.7,493.3 53.8,498.9 54.0,499.8 54.1,491.6 54.3,478.5 54.4,462.6 54.6,448.3 54.7,440.4 54.8,439.8 54.9,442.0 55.0,452.6 55.3,483.4 55.5,495.2 55.6,502.2 55.8,501.1 55.9,494.8 56.2,477.3 56.4,471.3 56.5,470.0 56.5,470.3 56.7,474.7 56.8,482.7 57.0,491.1 57.1,497.6 57.3,496.6 57.4,494.5 57.5,494.5 57.6,495.6 57.7,499.5 57.9,504.2 58.0,507.5 58.2,508.1 58.3,505.4 58.5,500.0 58.6,491.4 58.9,469.5 59.1,462.1 59.2,460.5 59.2,460.9 59.4,466.5 59.5,476.7 59.7,488.0 59.8,497.5 60.0,504.0 60.1,507.6 60.3,509.2 60.4,507.8 60.6,504.6 60.7,500.3 60.9,496.7 61.0,495.7 61.0,495.9 61.2,498.1 61.3,501.7 61.5,500.2 61.8,492.3 61.9,490.1 62.0,490.0 62.1,490.6 62.2,493.5 62.4,497.5 62.5,500.9 62.7,498.1 62.8,493.5 63.0,491.5 63.1,493.3 63.3,497.3 63.4,493.5 63.6,482.3 63.7,468.9 63.9,458.7 64.0,456.0 64.0,456.2 64.2,462.2 64.3,472.5 64.5,473.6 64.6,466.3 64.8,463.9 64.9,468.7 65.1,479.1 65.2,490.7 65.4,499.7 65.5,503.6 65.7,499.4 65.8,494.7 66.0,492.1 66.1,493.0 66.3,493.0 66.4,484.5 66.6,475.5 66.7,470.1 66.8,469.8 66.9,471.3 67.0,478.5 67.2,487.6 67.3,491.9 67.5,481.4 67.6,468.5 67.8,458.3 67.9,455.6 67.9,455.6 68.1,460.8 68.2,469.9 68.4,459.7 68.5,447.8 68.7,443.3 68.8,448.9 69.0,461.6 69.1,474.6 69.3,465.8 69.4,458.8 69.5,458.6 69.6,462.1 69.7,474.9 69.9,489.3 70.0,496.5 70.0,499.3 70.2,504.3 70.3,505.6 70.5,505.2 71.8,505.2 72.0,505.1 72.1,504.7 72.5,503.3 72.6,502.9 72.7,502.9 72.9,503.4 73.2,504.8 73.3,505.3 73.7,505.7 74.1,505.4 74.3,504.9 74.4,504.4 74.6,503.1 74.9,499.6 75.0,499.0 75.0,498.9 75.2,499.6 75.5,503.0 75.6,504.2 75.8,505.0 75.9,505.3 80.3,505.6 80.6,505.3 80.7,504.7 80.9,503.6 81.2,500.8 81.3,500.2 81.5,500.7 81.8,503.5 81.9,504.6 82.1,505.2 82.4,505.5 86.0,505.6 86.1,505.4 86.3,505.0 86.4,504.1 86.7,502.3 86.8,502.1 86.9,502.1 87.0,502.6 87.3,504.3 87.5,503.4 87.6,502.0 87.8,499.4 87.9,495.7 88.0,492.5 88.2,485.9 88.4,481.4 88.5,478.6 88.5,478.4 88.6,478.0 88.7,478.1 88.8,480.0 89.0,483.6 89.1,487.3 89.3,487.4 89.4,473.1 89.5,454.8 89.6,452.7 89.7,432.1 89.9,420.1 89.9,419.3 90.0,423.0 90.2,439.3 90.3,461.5 90.5,481.3 90.6,494.5 90.8,501.4 90.9,503.8 90.9,504.2 91.1,505.3 91.2,505.7 91.6,505.9 92.0,505.2 92.1,504.6 92.3,503.9 92.4,503.0 92.6,501.7 92.7,499.9 92.9,497.5 93.0,494.5 93.2,490.8 93.3,486.5 93.5,481.5 93.6,475.0 93.9,464.7 94.1,459.5 94.2,456.2 94.2,455.1 94.4,451.9 94.5,450.1 94.6,449.7 94.7,449.8 94.8,450.9 95.0,453.1 95.3,459.2 95.4,462.0 95.6,462.3 95.7,449.3 95.9,436.6 96.0,426.4 96.2,421.6 96.2,421.5 96.3,423.7 96.4,430.5 96.5,432.5 96.6,446.0 96.8,461.2 96.9,475.4 97.1,486.9 97.2,495.0 97.4,500.2 97.5,503.1 97.7,504.8 97.8,505.6 98.0,506.0 98.2,506.2 99.2,505.7 99.8,506.0 100.6,505.7 101.0,506.0 101.1,505.9 101.3,505.1 101.4,503.5 101.6,501.0 101.7,497.8 101.9,495.1 102.0,494.0 102.1,494.5 102.2,495.0 102.3,497.7 102.5,500.7 102.6,503.2 102.8,504.7 102.9,505.4 103.1,505.7 104.4,506.3 109.1,505.7 110.1,506.3 116.4,505.9 116.6,505.8 116.7,505.2 116.8,504.8 116.9,503.9 117.0,501.6 117.2,498.5 117.3,494.1 117.5,492.6 117.6,491.7 117.8,492.8 117.9,495.4 118.1,498.7 118.2,501.7 118.3,503.2 118.4,503.9 118.5,505.1 118.7,505.7 118.8,506.0 120.0,505.7 120.6,506.3 121.4,505.8 125.1,506.3 126.0,505.7 130.7,506.3 141.6,506.2 142.2,505.7 142.8,506.0 143.6,505.7 144.8,505.9 145.1,505.6 145.8,503.7 146.0,503.6 146.3,503.2 146.4,503.2 146.9,505.2 147.0,505.9 147.7,506.5 148.1,504.5 148.4,505.0 149.0,505.0 149.4,506.1 149.9,505.1 151.0,504.8 151.8,503.2 152.3,504.1 152.9,503.6 153.3,504.2 153.7,502.8 154.4,502.7 154.7,502.4 155.0,501.8 155.5,503.3 156.0,501.5 156.4,501.4 156.9,502.5 157.4,500.8 157.7,501.2 158.0,502.1 158.6,499.7 159.2,499.5 159.6,499.9 159.9,499.3 160.1,499.2 160.7,501.0 161.1,501.8 161.3,501.6 161.6,501.0 162.2,502.7 162.6,501.5 163.0,502.0 163.3,502.9 163.7,501.3 164.3,500.8 164.9,502.1 165.6,503.5 166.0,502.6 166.6,504.8 167.0,504.0 167.4,504.2 167.7,504.9 168.2,505.1 168.8,505.8 169.1,505.9 169.5,505.8 169.8,506.7 170.0,506.4 170.6,506.5 171.0,506.8 171.5,505.9 172.0,507.4 172.6,506.0 173.3,506.4 173.7,507.3 174.8,506.4 175.1,506.8 175.6,506.1 176.0,507.1 176.5,506.0 176.8,507.2 177.3,505.8 177.9,505.7 178.2,506.6 179.3,506.6 179.8,506.3 180.3,506.8 181.8,504.9 182.0,504.8 182.6,506.2 183.3,505.7 184.0,507.0 184.7,506.1 185.3,507.4 186.3,507.1 186.8,505.5 187.3,504.9 187.5,505.2 187.8,505.9 188.3,506.2 188.4,506.1 189.0,505.1 189.1,505.0 189.6,507.1 190.1,506.3 190.3,505.6 190.7,506.6 191.0,506.8 191.6,506.5 191.9,506.6 192.5,507.2 193.1,505.8 193.7,504.8 194.3,505.9 194.7,505.9 195.0,504.5 195.5,505.0 196.1,504.6 196.5,504.0 196.8,503.9 197.3,505.3 197.7,504.2 198.2,504.5 198.8,504.4 199.8,505.6 200.3,505.6 201.0,505.2 201.5,505.6 202.1,504.6 202.4,505.1 203.0,506.1 203.3,507.0 203.9,505.7 204.5,507.3 205.2,505.2 205.7,507.3 206.2,506.4 206.7,506.8 207.8,505.6 208.2,506.8 208.5,507.2 208.7,506.3 209.0,506.2 209.3,506.7 209.4,506.7 210.0,506.0 210.4,507.4 210.8,506.2 211.4,505.5 211.7,505.5 212.0,505.0 212.2,504.2 212.6,505.6 213.0,504.5 213.2,504.0 213.5,503.9 213.6,504.2 214.0,506.4 214.4,506.2 215.1,505.0 215.3,505.1 215.4,504.7 215.7,503.5 216.4,503.1 216.8,505.4 217.4,502.9" fill="none" stroke="#e80000" stroke-width="0.8" stroke-linejoin="round"/>
<path d="M33.8 513v-2.6M33.8 370.9v2.6M45.29 513v-1.5M45.29 370.9v1.5M56.78 513v-2.6M56.78 370.9v2.6M68.28 513v-1.5M68.28 370.9v1.5M79.77 513v-2.6M79.77 370.9v2.6M91.27 513v-1.5M91.27 370.9v1.5M102.76 513v-2.6M102.76 370.9v2.6M114.25 513v-1.5M114.25 370.9v1.5M125.75 513v-2.6M125.75 370.9v2.6M137.24 513v-1.5M137.24 370.9v1.5M148.74 513v-2.6M148.74 370.9v2.6M160.23 513v-1.5M160.23 370.9v1.5M171.72 513v-2.6M171.72 370.9v2.6M183.22 513v-1.5M183.22 370.9v1.5M194.71 513v-2.6M194.71 370.9v2.6M206.21 513v-1.5M206.21 370.9v1.5M217.7 513v-2.6M217.7 370.9v2.6M24.6 495.24h1.5M217.7 495.24h-1.5M24.6 477.48h2.6M217.7 477.48h-2.6M24.6 459.71h1.5M217.7 459.71h-1.5M24.6 441.95h2.6M217.7 441.95h-2.6M24.6 424.19h1.5M217.7 424.19h-1.5M24.6 406.42h2.6M217.7 406.42h-2.6M24.6 388.66h1.5M217.7 388.66h-1.5" stroke="#555" stroke-width="0.8" fill="none"/>
<rect x="24.6" y="370.9" width="193.1" height="142.1" fill="none" stroke="#555" stroke-width="1.1"/>
<g font-size="7.25" fill="#111" stroke="#111" stroke-width="0.28"><text x="33.8" y="522.5" text-anchor="middle">1000</text><text x="56.78" y="522.5" text-anchor="middle">1500</text><text x="79.77" y="522.5" text-anchor="middle">2000</text><text x="102.76" y="522.5" text-anchor="middle">2500</text><text x="125.75" y="522.5" text-anchor="middle">3000</text><text x="148.74" y="522.5" text-anchor="middle">3500</text><text x="171.72" y="522.5" text-anchor="middle">4000</text><text x="194.71" y="522.5" text-anchor="middle">4500</text><text x="217.7" y="522.5" text-anchor="middle">5000</text><text x="21.4" y="515.65" text-anchor="end">0.0</text><text x="21.4" y="480.12" text-anchor="end">0.1</text><text x="21.4" y="444.6" text-anchor="end">0.2</text><text x="21.4" y="409.07" text-anchor="end">0.3</text><text x="21.4" y="373.55" text-anchor="end">0.4</text></g>
<path d="M275.5,512.3 276.2,512.3 276.4,512.1 276.5,511.8 276.7,510.9 276.8,509.3 277.1,504.9 277.3,504.0 277.4,504.9 277.7,509.2 277.9,510.6 278.0,509.3 278.2,506.5 278.3,502.9 278.5,500.1 278.6,499.5 278.6,499.7 278.8,501.8 278.9,505.3 279.1,508.6 279.2,510.7 279.4,511.6 279.5,510.9 279.7,509.4 279.8,507.7 280.0,506.3 280.1,506.0 280.1,506.1 280.3,507.1 280.6,510.5 280.7,511.5 280.9,512.0 281.2,512.3 281.5,512.2 281.6,512.0 281.8,511.2 281.9,509.6 282.1,506.8 282.2,503.4 282.4,500.8 282.5,500.1 282.5,500.3 282.7,502.1 282.8,504.9 283.0,505.8 283.1,503.0 283.3,500.6 283.4,500.1 283.4,500.3 283.6,502.4 283.7,505.7 283.9,508.8 284.0,510.8 284.2,511.8 284.3,512.2 286.1,512.3 286.3,512.2 286.4,511.8 286.6,510.7 286.7,508.2 286.9,504.0 287.0,498.8 287.2,494.8 287.3,493.9 287.3,494.1 287.5,497.2 287.6,502.3 287.8,507.0 287.9,510.0 288.1,511.5 288.2,512.1 288.4,512.1 288.5,511.7 288.7,510.9 289.0,508.4 289.1,507.6 289.2,507.5 289.3,507.7 289.4,508.8 289.6,510.1 289.7,511.2 289.9,511.9 290.0,512.2 291.2,512.3 291.4,512.2 291.5,511.9 291.7,511.0 291.8,509.0 292.0,505.7 292.1,501.5 292.3,498.3 292.4,497.6 292.4,497.8 292.6,500.2 292.7,504.2 292.9,507.8 293.0,509.6 293.2,506.9 293.3,502.5 293.5,497.5 293.6,494.5 293.7,494.3 293.8,495.2 293.9,499.1 294.1,504.1 294.2,508.0 294.4,509.4 294.5,506.8 294.7,502.9 294.8,499.1 295.0,497.6 295.1,499.1 295.3,502.9 295.4,506.7 295.6,509.2 295.7,506.6 295.9,501.2 296.0,494.3 296.2,489.0 296.3,487.8 296.3,488.1 296.5,492.2 296.6,499.0 296.8,505.2 296.9,509.3 297.1,511.3 297.2,512.0 297.4,512.2 302.2,512.2 302.3,511.9 302.5,511.1 302.6,509.2 302.8,506.1 302.9,502.3 303.1,499.3 303.2,498.6 303.2,498.8 303.4,501.1 303.5,504.8 303.7,508.3 303.8,510.6 304.0,511.7 304.1,512.1 305.6,512.2 305.8,512.0 305.9,511.4 306.1,509.9 306.2,507.0 306.4,503.0 306.5,499.3 306.7,497.8 306.8,499.3 307.0,503.0 307.1,507.0 307.3,509.9 307.4,511.4 307.6,511.7 307.7,510.8 307.9,508.9 308.0,505.9 308.2,502.6 308.3,500.6 308.4,500.5 308.5,501.1 308.6,503.6 308.8,507.0 308.9,509.7 309.1,511.2 309.2,511.9 309.4,512.2 312.8,512.2 313.0,512.0 313.1,511.5 313.3,510.5 313.6,507.1 313.7,506.1 313.8,506.0 313.9,506.3 314.0,507.7 314.2,509.4 314.3,510.9 314.5,511.7 314.6,512.1 318.5,512.2 318.7,512.0 318.8,511.6 319.0,510.6 319.3,507.6 319.4,506.7 319.5,506.6 319.6,506.9 319.7,508.1 319.9,509.7 320.0,511.0 320.2,511.8 320.3,512.1 321.7,512.2 321.8,512.0 322.0,511.6 322.3,510.4 322.5,510.0 322.6,510.1 323.0,511.8 323.2,512.1 326.2,512.2 326.3,512.2 326.5,511.9 326.6,511.2 326.8,509.7 326.9,507.4 327.1,505.0 327.2,503.5 327.3,503.4 327.4,503.8 327.5,505.8 327.7,508.3 327.8,510.3 328.0,511.5 328.1,512.0 328.3,512.2 328.4,512.0 328.6,511.4 328.7,510.0 328.9,507.6 329.0,504.7 329.2,502.4 329.3,501.9 329.3,502.0 329.5,503.8 329.6,506.6 329.8,509.3 329.9,511.0 330.1,511.8 330.2,512.1 332.2,512.2 332.3,512.0 332.5,511.4 332.6,509.7 332.8,505.4 332.9,497.3 333.1,485.3 333.2,471.7 333.4,461.8 333.5,459.7 333.5,460.2 333.7,467.8 334.0,493.6 334.1,503.0 334.3,507.8 334.4,505.5 334.6,499.1 334.9,481.0 335.0,475.7 335.1,475.3 335.2,476.8 335.3,483.8 335.5,493.3 335.6,501.8 335.8,507.5 335.9,510.4 336.1,511.7 336.2,512.1 339.1,512.2 339.2,512.1 339.4,511.8 339.5,510.9 339.7,509.0 339.8,506.2 340.0,503.2 340.1,501.3 340.2,501.2 340.3,501.7 340.4,504.1 340.6,507.3 340.7,509.8 340.8,510.3 340.9,511.3 341.0,512.0 341.2,512.2 353.3,512.3 354.1,511.8 354.2,511.5 354.4,510.9 354.5,509.8 354.7,507.9 354.8,505.5 355.0,502.6 355.1,500.1 355.3,498.4 355.4,498.1 355.4,498.2 355.6,499.5 355.7,501.9 355.9,504.8 356.0,507.4 356.2,509.5 356.3,510.9 356.5,511.7 356.6,512.2 356.9,512.5 368.3,512.5 369.2,512.0 372.1,512.4 375.7,512.3 376.1,512.5 376.7,512.1 381.7,512.0 382.4,512.4 384.1,512.0 385.8,512.5 386.4,511.9 387.5,512.1 389.0,510.4 389.6,510.9 390.7,509.6 392.1,508.8 394.4,511.5 394.9,511.7 395.4,510.9 396.2,507.5 396.7,506.2 397.2,505.7 397.4,505.9 397.9,507.0 398.6,509.7 398.8,510.1 399.2,510.6 399.7,510.2 400.3,508.9 400.7,507.7 401.2,507.2 401.5,507.5 402.8,510.9 403.6,511.9 405.8,512.0 406.7,511.1 408.6,512.5 409.1,511.9 411.1,511.9 411.7,512.4 413.1,511.9 413.8,512.4 419.9,512.2 420.0,512.0 420.5,512.7 422.8,511.8 423.4,512.6 424.9,512.1 425.9,512.5 426.4,511.4 427.1,511.1 427.5,510.8 427.9,511.2 428.2,510.8 428.5,509.6 428.8,509.1 428.9,509.4 429.3,510.5 430.2,511.6 430.9,511.9 431.5,511.5 432.0,512.1 433.1,511.4 433.5,510.9 434.3,511.0 434.8,510.6 435.1,511.0 435.2,511.0 435.4,510.8 435.7,510.9 436.1,511.6 436.6,510.9 436.8,510.6 437.2,511.2 437.6,509.5 437.8,509.1 438.5,511.9 438.7,510.9 438.9,509.6 439.0,509.2 439.1,509.0 439.6,510.1 440.3,510.2 440.9,512.1 441.1,511.9 441.3,511.4 441.6,510.0 441.7,509.7 441.8,509.6 442.0,510.0 443.2,510.4 443.9,510.1 444.5,508.7 444.7,509.3 445.0,510.6 445.2,511.1 445.7,509.9 446.0,509.9 446.4,511.4 446.9,511.4 447.2,511.7 447.4,511.6 447.9,510.9 448.8,510.6 449.3,511.9 449.7,511.3 450.2,511.6 450.7,510.6 451.4,510.3 451.9,511.2 452.3,510.8 452.3,510.5 452.5,510.5" fill="none" stroke="#e80000" stroke-width="0.8" stroke-linejoin="round"/>
<path d="M273.47 513.3v-2.6M273.47 375.4v2.6M284.68 513.3v-1.5M284.68 375.4v1.5M295.88 513.3v-2.6M295.88 375.4v2.6M307.09 513.3v-1.5M307.09 375.4v1.5M318.3 513.3v-2.6M318.3 375.4v2.6M329.51 513.3v-1.5M329.51 375.4v1.5M340.72 513.3v-2.6M340.72 375.4v2.6M351.93 513.3v-1.5M351.93 375.4v1.5M363.13 513.3v-2.6M363.13 375.4v2.6M374.34 513.3v-1.5M374.34 375.4v1.5M385.55 513.3v-2.6M385.55 375.4v2.6M396.76 513.3v-1.5M396.76 375.4v1.5M407.97 513.3v-2.6M407.97 375.4v2.6M419.18 513.3v-1.5M419.18 375.4v1.5M430.38 513.3v-2.6M430.38 375.4v2.6M441.59 513.3v-1.5M441.59 375.4v1.5M452.8 513.3v-2.6M452.8 375.4v2.6M264.5 496.06h1.5M452.8 496.06h-1.5M264.5 478.82h2.6M452.8 478.82h-2.6M264.5 461.59h1.5M452.8 461.59h-1.5M264.5 444.35h2.6M452.8 444.35h-2.6M264.5 427.11h1.5M452.8 427.11h-1.5M264.5 409.87h2.6M452.8 409.87h-2.6M264.5 392.64h1.5M452.8 392.64h-1.5" stroke="#555" stroke-width="0.8" fill="none"/>
<rect x="264.5" y="375.4" width="188.3" height="137.9" fill="none" stroke="#555" stroke-width="1.1"/>
<g font-size="7.25" fill="#111" stroke="#111" stroke-width="0.28"><text x="273.47" y="522.8" text-anchor="middle">1000</text><text x="295.88" y="522.8" text-anchor="middle">1500</text><text x="318.3" y="522.8" text-anchor="middle">2000</text><text x="340.72" y="522.8" text-anchor="middle">2500</text><text x="363.13" y="522.8" text-anchor="middle">3000</text><text x="385.55" y="522.8" text-anchor="middle">3500</text><text x="407.97" y="522.8" text-anchor="middle">4000</text><text x="430.38" y="522.8" text-anchor="middle">4500</text><text x="452.8" y="522.8" text-anchor="middle">5000</text><text x="261.3" y="515.95" text-anchor="end">0.0</text><text x="261.3" y="481.47" text-anchor="end">0.1</text><text x="261.3" y="447" text-anchor="end">0.2</text><text x="261.3" y="412.52" text-anchor="end">0.3</text><text x="261.3" y="378.05" text-anchor="end">0.4</text></g>
<g stroke="#111" stroke-width="0.28"><text x="86.0" y="164.4" font-size="8.93" stroke-width="0.38" textLength="67.4" lengthAdjust="spacingAndGlyphs">Wavenumber/cm<tspan font-size="5.64" dy="-3.6">-1</tspan></text>
<text x="323.8" y="163.8" font-size="8.93" stroke-width="0.38" textLength="67.4" lengthAdjust="spacingAndGlyphs">Wavenumber/cm<tspan font-size="5.64" dy="-3.6">-1</tspan></text>
<text x="85.4" y="348.0" font-size="8.93" stroke-width="0.38" textLength="67.4" lengthAdjust="spacingAndGlyphs">Wavenumber/cm<tspan font-size="5.64" dy="-3.6">-1</tspan></text>
<text x="323.3" y="348.4" font-size="8.93" stroke-width="0.38" textLength="67.4" lengthAdjust="spacingAndGlyphs">Wavenumber/cm<tspan font-size="5.64" dy="-3.6">-1</tspan></text>
<text x="85.4" y="531.2" font-size="9.50" stroke-width="0.38" textLength="69.6" lengthAdjust="spacingAndGlyphs">Wavenumber/cm<tspan font-size="6.00" dy="-3.6">-1</tspan></text>
<text x="323.8" y="531.0" font-size="8.93" stroke-width="0.38" textLength="67.4" lengthAdjust="spacingAndGlyphs">Wavenumber/cm<tspan font-size="5.64" dy="-3.6">-1</tspan></text>
<text transform="translate(10.6,78.9) rotate(-90)" font-size="8.64" text-anchor="middle" stroke-width="0.38" textLength="44.6" lengthAdjust="spacingAndGlyphs">Absorbance</text>
<text transform="translate(248.9,79.05) rotate(-90)" font-size="8.64" text-anchor="middle" stroke-width="0.38" textLength="44.6" lengthAdjust="spacingAndGlyphs">Absorbance</text>
<text transform="translate(11.2,262.8) rotate(-90)" font-size="8.64" text-anchor="middle" stroke-width="0.38" textLength="44.6" lengthAdjust="spacingAndGlyphs">Absorbance</text>
<text transform="translate(249.2,263.9) rotate(-90)" font-size="8.64" text-anchor="middle" stroke-width="0.38" textLength="44.6" lengthAdjust="spacingAndGlyphs">Absorbance</text>
<text transform="translate(9.0,444.75) rotate(-90)" font-size="8.74" text-anchor="middle" stroke-width="0.38" textLength="44.6" lengthAdjust="spacingAndGlyphs">Absorbance</text>
<text transform="translate(249.2,447.15) rotate(-90)" font-size="8.64" text-anchor="middle" stroke-width="0.38" textLength="44.6" lengthAdjust="spacingAndGlyphs">Absorbance</text>
<text x="112.8" y="181.5" font-size="9.4" text-anchor="middle" stroke-width="0.5">(a)</text>
<text x="347.8" y="181.5" font-size="9.4" text-anchor="middle" stroke-width="0.5">(b)</text>
<text x="113.1" y="361.8" font-size="9.4" text-anchor="middle" stroke-width="0.5">(c)</text>
<text x="348.0" y="361.8" font-size="9.4" text-anchor="middle" stroke-width="0.5">(d)</text>
<text x="112.8" y="545.6" font-size="9.4" text-anchor="middle" stroke-width="0.5">(e)</text>
<text x="347.9" y="545.3" font-size="9.4" text-anchor="middle" stroke-width="0.5">(f)</text>
<rect x="163.1" y="17.1" width="33.1" height="9.5" fill="#fff" stroke="#8a8a8a" stroke-width="0.8"/><path d="M165.5 22.0H182.4" stroke="#f08080" stroke-width="1.0"/><text x="184.0" y="24.4" font-size="7.2" font-weight="bold" stroke-width="0.2">CO</text>
<rect x="400.6" y="17.5" width="32.8" height="9.1" fill="#fff" stroke="#8a8a8a" stroke-width="0.8"/><path d="M403.3 22.3H419.5" stroke="#f08080" stroke-width="1.0"/><text x="421.5" y="24.7" font-size="7.2" stroke-width="0.42">CO</text>
<rect x="162.6" y="201.4" width="34.0" height="8.8" fill="#fff" stroke="#8a8a8a" stroke-width="0.8"/><path d="M165.3 206.2H181.7" stroke="#f08080" stroke-width="1.0"/><text x="183.9" y="208.6" font-size="7.2" stroke-width="0.42">SO<tspan font-size="4.6" dy="0.6">2</tspan></text>
<rect x="400.6" y="202.1" width="34.1" height="9.5" fill="#fff" stroke="#8a8a8a" stroke-width="0.8"/><path d="M403.3 207.3H419.8" stroke="#f08080" stroke-width="1.0"/><text x="421.7" y="209.7" font-size="7.2" stroke-width="0.42">SO<tspan font-size="4.6" dy="0.6">2</tspan></text>
<rect x="164.2" y="381.7" width="35.7" height="9.9" fill="#fff" stroke="#8a8a8a" stroke-width="0.8"/><path d="M166.8 386.9H183.9" stroke="#f08080" stroke-width="1.4"/><text x="185.6" y="389.3" font-size="7.2" font-weight="bold" stroke-width="0.2">H<tspan font-size="4.6" dy="0.6">2</tspan><tspan dy="-0.6">S</tspan></text>
<rect x="400.4" y="385.8" width="34.3" height="9.5" fill="#fff" stroke="#8a8a8a" stroke-width="0.8"/><path d="M403.0 390.4H419.8" stroke="#f08080" stroke-width="1.0"/><text x="421.7" y="392.8" font-size="7.2" font-weight="bold" stroke-width="0.2">H<tspan font-size="4.6" dy="0.6">2</tspan><tspan dy="-0.6">S</tspan></text>
<path d="M87.8,88.3 95.0,88.3" fill="none" stroke="#2a2a2a" stroke-width="0.6"/><circle cx="94.6" cy="88.3" r="0.75" fill="#111"/><text x="96.4" y="91.6" font-size="7.5" stroke-width="0.2" textLength="45.5" lengthAdjust="spacingAndGlyphs">CO, 2168cm<tspan font-size="5" dy="-3.2">-1</tspan></text>
<path d="M325.3,95.3 332.6,95.3" fill="none" stroke="#2a2a2a" stroke-width="0.6"/><circle cx="332.2" cy="95.3" r="0.75" fill="#111"/><text x="334.1" y="98.6" font-size="7.5" stroke-width="0.2" textLength="45.5" lengthAdjust="spacingAndGlyphs">CO, 2168cm<tspan font-size="5" dy="-3.2">-1</tspan></text>
<path d="M51.1,217.7 57.8,217.7" fill="none" stroke="#2a2a2a" stroke-width="0.6"/><circle cx="57.4" cy="217.7" r="0.75" fill="#111"/><text x="59.4" y="221.3" font-size="7.5" stroke-width="0.2" textLength="47.2" lengthAdjust="spacingAndGlyphs">SO<tspan font-size="5.2">2</tspan>, 1360cm<tspan font-size="5" dy="-3.2">-1</tspan></text>
<path d="M289.2,224.1 295.9,224.1" fill="none" stroke="#2a2a2a" stroke-width="0.6"/><circle cx="295.5" cy="224.1" r="0.75" fill="#111"/><text x="297.2" y="227.6" font-size="7.5" stroke-width="0.2" textLength="47.2" lengthAdjust="spacingAndGlyphs">SO<tspan font-size="5.2">2</tspan>, 1360cm<tspan font-size="5" dy="-3.2">-1</tspan></text>
<path d="M107.5,506.7 107.5,484.7 114.0,484.7" fill="none" stroke="#2a2a2a" stroke-width="0.6"/><circle cx="113.6" cy="484.7" r="0.75" fill="#111"/><text x="116.2" y="488.6" font-size="7.5" stroke-width="0.2" textLength="47.2" lengthAdjust="spacingAndGlyphs">H<tspan font-size="5.2">2</tspan>S, 2624cm<tspan font-size="5" dy="-3.2">-1</tspan></text>
<path d="M345.4,512.0 345.4,490.9 352.2,490.9" fill="none" stroke="#2a2a2a" stroke-width="0.6"/><circle cx="351.8" cy="490.9" r="0.75" fill="#111"/><text x="353.6" y="494.6" font-size="7.5" stroke-width="0.2" textLength="47.2" lengthAdjust="spacingAndGlyphs">H<tspan font-size="5.2">2</tspan>S, 2624cm<tspan font-size="5" dy="-3.2">-1</tspan></text></g>
</svg>
</body></html>
